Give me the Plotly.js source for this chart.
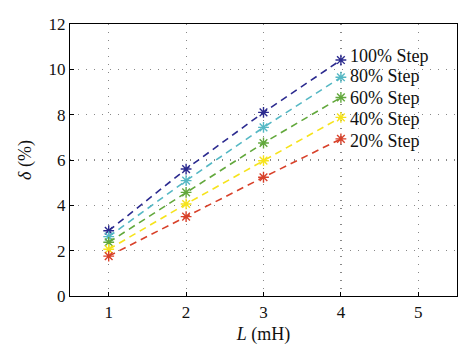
<!DOCTYPE html>
<html><head><meta charset="utf-8">
<script src="https://cdn.plot.ly/plotly-3.0.1.min.js"></script>
<style>body{margin:0;background:#fff}#c{width:474px;height:362px}</style>
</head><body><div id="c"></div>
<script>
const L = [1, 2, 3, 4];
const seriesNames = ['100% Step', '80% Step', '60% Step', '40% Step', '20% Step'];
const s100 = [2.88, 5.60, 8.10, 10.41];
const s80 = [2.62, 5.09, 7.44, 9.65];
const s60 = [2.37, 4.57, 6.75, 8.76];
const s40 = [2.06, 4.06, 5.97, 7.88];
const s20 = [1.76, 3.50, 5.24, 6.93];
const colors = ['#2b2a8f', '#55b8c4', '#62a83c', '#f6e31c', '#d8412a'];
const xTicks = [1, 2, 3, 4, 5];
const yTicks = [0, 2, 4, 6, 8, 10, 12];
const FONT = '"Liberation Serif", "Times New Roman", "DejaVu Serif", serif';

const all = [s100, s80, s60, s40, s20];
const traces = all.map((ys, i) => ({
  x: L, y: ys, type: 'scatter', mode: 'lines+markers', name: seriesNames[i],
  line: {color: colors[i], dash: '7px,5px', width: 1.6},
  marker: {symbol: 'asterisk-open', size: 9, color: colors[i], line: {color: colors[i], width: 1.4}}
}));
const labelY = [10.6, 9.7, 8.75, 7.8, 6.85];
const annotations = all.map((ys, i) => ({
  x: L[L.length - 1], y: labelY[i], xref: 'x', yref: 'y', text: seriesNames[i],
  showarrow: false, xanchor: 'left', yanchor: 'middle', xshift: 7,
  font: {family: FONT, size: 18, color: '#111'}
}));
const axisCommon = {
  showline: true, mirror: true, linecolor: '#000', linewidth: 1.2,
  ticks: 'inside', ticklen: 4, tickcolor: '#000',
  showgrid: true, gridcolor: '#888', griddash: '1px,7px', gridwidth: 1.2,
  zeroline: false,
  tickfont: {family: FONT, size: 17, color: '#111'}
};
const layout = {
  width: 474, height: 362,
  margin: {l: 70, r: 17, t: 24, b: 66},
  paper_bgcolor: '#fff', plot_bgcolor: '#fff',
  font: {family: FONT},
  showlegend: false,
  xaxis: Object.assign({}, axisCommon, {
    range: [0.5, 5.5], tickvals: xTicks, ticktext: xTicks.map(String),
    title: {text: '<i>L</i> (mH)', font: {family: FONT, size: 18, color: '#111'}, standoff: 6}
  }),
  yaxis: Object.assign({}, axisCommon, {
    range: [0, 12], tickvals: yTicks, ticktext: yTicks.map(String),
    title: {text: '<i>δ</i> (%)', font: {family: FONT, size: 18, color: '#111'}, standoff: 12}
  }),
  annotations: annotations
};
Plotly.newPlot('c', traces, layout, {displayModeBar: false, staticPlot: true});
</script></body></html>
